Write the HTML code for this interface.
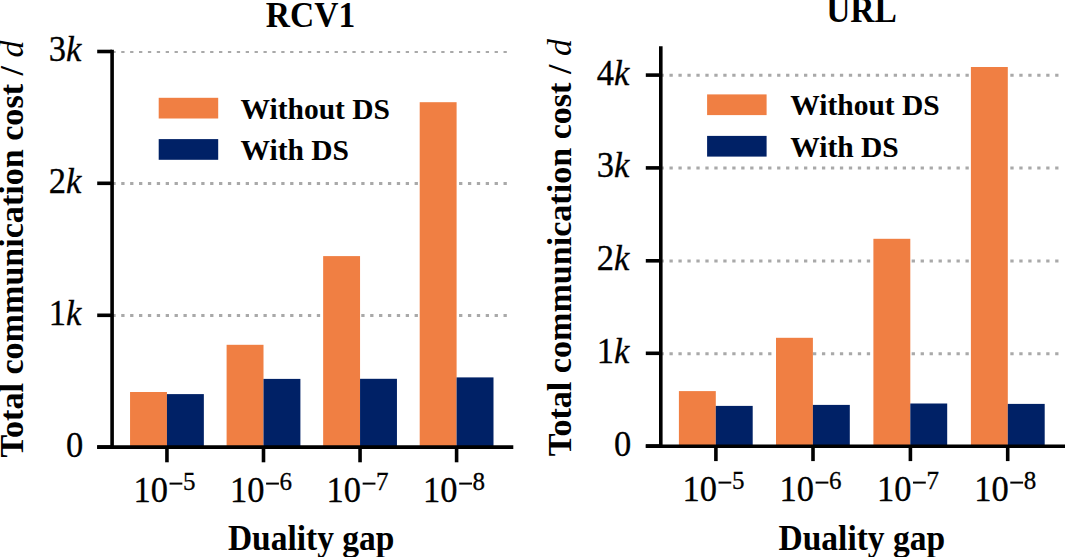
<!DOCTYPE html>
<html><head><meta charset="utf-8"><style>
html,body{margin:0;padding:0;background:#fff;width:1065px;height:557px;overflow:hidden}
svg{display:block}
text{font-family:"Liberation Serif",serif;fill:#000}
.tk{stroke:#000;stroke-width:0.3px}
</style></head><body>
<svg width="1065" height="557" viewBox="0 0 1065 557">
<rect width="1065" height="557" fill="#fff"/>
<line x1="112.35" y1="315.4" x2="508" y2="315.4" stroke="#a9a9a9" stroke-width="3" stroke-dasharray="3.3 5.59"/>
<line x1="112.35" y1="183.4" x2="508" y2="183.4" stroke="#a9a9a9" stroke-width="3" stroke-dasharray="3.3 5.59"/>
<line x1="112.35" y1="52" x2="508" y2="52" stroke="#a9a9a9" stroke-width="2.1" stroke-dasharray="3.3 5.59"/>
<rect x="130.05" y="392" width="36.9" height="55.1" fill="#F07F43"/>
<rect x="166.95" y="394.1" width="36.9" height="53.0" fill="#002166"/>
<rect x="226.6" y="344.8" width="36.9" height="102.3" fill="#F07F43"/>
<rect x="263.5" y="378.9" width="36.9" height="68.2" fill="#002166"/>
<rect x="323.15" y="256.1" width="36.9" height="191.0" fill="#F07F43"/>
<rect x="360.05" y="378.8" width="36.9" height="68.3" fill="#002166"/>
<rect x="419.7" y="102.2" width="36.9" height="344.9" fill="#F07F43"/>
<rect x="456.6" y="377.4" width="36.9" height="69.7" fill="#002166"/>
<line x1="112.1" y1="49.7" x2="112.1" y2="447.1" stroke="#000" stroke-width="3.6"/>
<line x1="97.2" y1="447.1" x2="513.3" y2="447.1" stroke="#000" stroke-width="3.6"/>
<line x1="97.2" y1="447.1" x2="112.1" y2="447.1" stroke="#000" stroke-width="3.6"/>
<line x1="97.2" y1="315.3" x2="112.1" y2="315.3" stroke="#000" stroke-width="3.6"/>
<line x1="97.2" y1="183.3" x2="112.1" y2="183.3" stroke="#000" stroke-width="3.6"/>
<line x1="97.2" y1="51.5" x2="112.1" y2="51.5" stroke="#000" stroke-width="3.6"/>
<line x1="166.95" y1="447.1" x2="166.95" y2="462.3" stroke="#000" stroke-width="3.6"/>
<line x1="263.5" y1="447.1" x2="263.5" y2="462.3" stroke="#000" stroke-width="3.6"/>
<line x1="360.05" y1="447.1" x2="360.05" y2="462.3" stroke="#000" stroke-width="3.6"/>
<line x1="456.6" y1="447.1" x2="456.6" y2="462.3" stroke="#000" stroke-width="3.6"/>
<text transform="translate(83.3,456.6) scale(1,1.06)" class="tk" text-anchor="end" font-size="34.5">0</text>
<text transform="translate(81.2,324.8) scale(1,1.06)" class="tk" text-anchor="end" font-size="34.5">1<tspan font-style="italic">k</tspan></text>
<text transform="translate(81.2,192.8) scale(1,1.06)" class="tk" text-anchor="end" font-size="34.5">2<tspan font-style="italic">k</tspan></text>
<text transform="translate(81.2,61.0) scale(1,1.06)" class="tk" text-anchor="end" font-size="34.5">3<tspan font-style="italic">k</tspan></text>
<text transform="translate(167.95,502) scale(1,1.06)" class="tk" text-anchor="end" font-size="34.5">10</text>
<rect x="169.55" y="482.6" width="12.8" height="2" fill="#000"/>
<text x="182.95" y="490" class="tk" font-size="25">5</text>
<text transform="translate(264.5,502) scale(1,1.06)" class="tk" text-anchor="end" font-size="34.5">10</text>
<rect x="266.1" y="482.6" width="12.8" height="2" fill="#000"/>
<text x="279.5" y="490" class="tk" font-size="25">6</text>
<text transform="translate(361.05,502) scale(1,1.06)" class="tk" text-anchor="end" font-size="34.5">10</text>
<rect x="362.65" y="482.6" width="12.8" height="2" fill="#000"/>
<text x="376.05" y="490" class="tk" font-size="25">7</text>
<text transform="translate(457.6,502) scale(1,1.06)" class="tk" text-anchor="end" font-size="34.5">10</text>
<rect x="459.2" y="482.6" width="12.8" height="2" fill="#000"/>
<text x="472.6" y="490" class="tk" font-size="25">8</text>
<text transform="translate(310.5,26.5) scale(1,1.04)" text-anchor="middle" font-size="33.5" font-weight="bold">RCV1</text>
<text transform="translate(311.2,550) scale(1,1.04)" text-anchor="middle" font-size="33.5" font-weight="bold">Duality gap</text>
<text transform="translate(22.6,249.0) rotate(-90)" text-anchor="middle" font-size="34.1" font-weight="bold">Total communication cost / <tspan font-weight="normal" font-style="italic">d</tspan></text>
<rect x="158.7" y="97.8" width="59.5" height="20.7" fill="#F07F43"/>
<rect x="158.7" y="139.1" width="59.5" height="20.7" fill="#002166"/>
<text x="240.5" y="118.8" font-size="29.5" font-weight="bold">Without DS</text>
<text x="240.5" y="160.1" font-size="29.5" font-weight="bold">With DS</text>
<line x1="660.5" y1="353.7" x2="1060" y2="353.7" stroke="#a9a9a9" stroke-width="3" stroke-dasharray="3.3 5.67"/>
<line x1="660.5" y1="261" x2="1060" y2="261" stroke="#a9a9a9" stroke-width="3" stroke-dasharray="3.3 5.67"/>
<line x1="660.5" y1="168" x2="1060" y2="168" stroke="#a9a9a9" stroke-width="3" stroke-dasharray="3.3 5.67"/>
<line x1="660.5" y1="75.2" x2="1060" y2="75.2" stroke="#a9a9a9" stroke-width="3" stroke-dasharray="3.3 5.67"/>
<rect x="678.9" y="391.1" width="36.9" height="55.2" fill="#F07F43"/>
<rect x="715.8" y="405.9" width="36.9" height="40.4" fill="#002166"/>
<rect x="776" y="337.8" width="36.9" height="108.5" fill="#F07F43"/>
<rect x="812.9" y="404.9" width="36.9" height="41.4" fill="#002166"/>
<rect x="873.4" y="238.8" width="36.9" height="207.5" fill="#F07F43"/>
<rect x="910.3" y="403.5" width="36.9" height="42.8" fill="#002166"/>
<rect x="970.9" y="67" width="36.9" height="379.3" fill="#F07F43"/>
<rect x="1007.8" y="403.9" width="36.9" height="42.4" fill="#002166"/>
<line x1="660.8" y1="46.2" x2="660.8" y2="446.3" stroke="#000" stroke-width="3.6"/>
<line x1="645.8" y1="446.3" x2="1066" y2="446.3" stroke="#000" stroke-width="3.6"/>
<line x1="645.8" y1="446" x2="660.8" y2="446" stroke="#000" stroke-width="3.6"/>
<line x1="645.8" y1="353.3" x2="660.8" y2="353.3" stroke="#000" stroke-width="3.6"/>
<line x1="645.8" y1="260.8" x2="660.8" y2="260.8" stroke="#000" stroke-width="3.6"/>
<line x1="645.8" y1="167.9" x2="660.8" y2="167.9" stroke="#000" stroke-width="3.6"/>
<line x1="645.8" y1="75.1" x2="660.8" y2="75.1" stroke="#000" stroke-width="3.6"/>
<line x1="715.9" y1="446.3" x2="715.9" y2="461.1" stroke="#000" stroke-width="3.6"/>
<line x1="813" y1="446.3" x2="813" y2="461.1" stroke="#000" stroke-width="3.6"/>
<line x1="910.4" y1="446.3" x2="910.4" y2="461.1" stroke="#000" stroke-width="3.6"/>
<line x1="1007.7" y1="446.3" x2="1007.7" y2="461.1" stroke="#000" stroke-width="3.6"/>
<text transform="translate(631.3,455.5) scale(1,1.06)" class="tk" text-anchor="end" font-size="34.5">0</text>
<text transform="translate(629.4,362.8) scale(1,1.06)" class="tk" text-anchor="end" font-size="34.5">1<tspan font-style="italic">k</tspan></text>
<text transform="translate(629.4,270.3) scale(1,1.06)" class="tk" text-anchor="end" font-size="34.5">2<tspan font-style="italic">k</tspan></text>
<text transform="translate(629.4,177.4) scale(1,1.06)" class="tk" text-anchor="end" font-size="34.5">3<tspan font-style="italic">k</tspan></text>
<text transform="translate(629.4,84.6) scale(1,1.06)" class="tk" text-anchor="end" font-size="34.5">4<tspan font-style="italic">k</tspan></text>
<text transform="translate(716.9,501) scale(1,1.06)" class="tk" text-anchor="end" font-size="34.5">10</text>
<rect x="718.5" y="481.6" width="12.8" height="2" fill="#000"/>
<text x="731.9" y="489" class="tk" font-size="25">5</text>
<text transform="translate(814,501) scale(1,1.06)" class="tk" text-anchor="end" font-size="34.5">10</text>
<rect x="815.6" y="481.6" width="12.8" height="2" fill="#000"/>
<text x="829" y="489" class="tk" font-size="25">6</text>
<text transform="translate(911.4,501) scale(1,1.06)" class="tk" text-anchor="end" font-size="34.5">10</text>
<rect x="913.0" y="481.6" width="12.8" height="2" fill="#000"/>
<text x="926.4" y="489" class="tk" font-size="25">7</text>
<text transform="translate(1008.7,501) scale(1,1.06)" class="tk" text-anchor="end" font-size="34.5">10</text>
<rect x="1010.3" y="481.6" width="12.8" height="2" fill="#000"/>
<text x="1023.7" y="489" class="tk" font-size="25">8</text>
<text transform="translate(861.5,22) scale(1,1.04)" text-anchor="middle" font-size="33.5" font-weight="bold">URL</text>
<text transform="translate(861.8,550) scale(1,1.04)" text-anchor="middle" font-size="33.5" font-weight="bold">Duality gap</text>
<text transform="translate(571.2,247.6) rotate(-90)" text-anchor="middle" font-size="34.1" font-weight="bold">Total communication cost / <tspan font-weight="normal" font-style="italic">d</tspan></text>
<rect x="707.1" y="94.4" width="59.5" height="20.7" fill="#F07F43"/>
<rect x="707.1" y="135.9" width="59.5" height="20.7" fill="#002166"/>
<text x="790.3" y="115.4" font-size="29.5" font-weight="bold">Without DS</text>
<text x="790.3" y="156.9" font-size="29.5" font-weight="bold">With DS</text>
</svg>
</body></html>
